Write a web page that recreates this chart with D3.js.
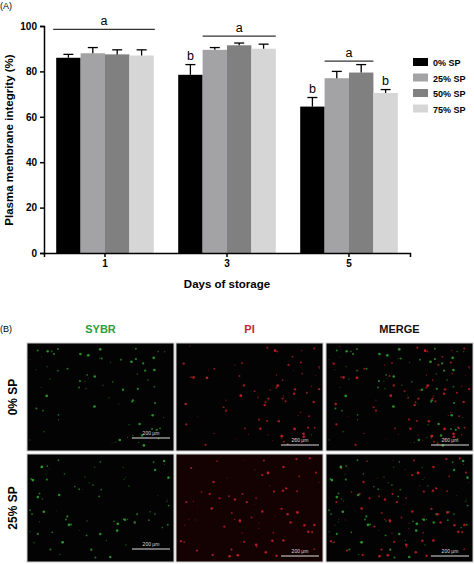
<!DOCTYPE html>
<html><head><meta charset="utf-8">
<script src="https://cdn.jsdelivr.net/npm/d3@7"></script>
<style>body{margin:0;background:#fff}text{font-family:Arial,"Liberation Sans",sans-serif}</style>
</head><body>
<svg id="c" width="474" height="564"></svg>
<script>
const days=["1","3","5"];
const series=["0% SP","25% SP","50% SP","75% SP"];
const colors=["#000000","#a3a3a5","#808080","#d6d6d6"];
const means=[[86,88,87.5,87],[78.5,89.5,91.5,90],[64.5,77,79.5,70.5]];
const errs=[[1.5,2.5,2,2.5],[4.5,1,1,2],[4,3,3.5,1.5]];
const yTicks=[0,20,40,60,80,100];
const sig=[{g:0,from:0,to:3,y:98.5,l:"a"},{g:1,from:1,to:3,y:95.5,l:"a"},{g:2,from:1,to:2,y:84.5,l:"a"}];
const letters=[{g:1,s:0,l:"b"},{g:2,s:0,l:"b"},{g:2,s:3,l:"b"}];

const svg=d3.select("#c");
const x0=d3.scaleBand().domain(days).range([44,410]).paddingInner(0.2).paddingOuter(0.1);
const x1=d3.scaleBand().domain(series).range([0,x0.bandwidth()]);
const y=d3.scaleLinear().domain([0,100]).range([253,26]);

svg.append("text").attr("x",0).attr("y",9).attr("font-size",9).text("(A)");
const g=svg.append("g");
days.forEach((d,i)=>{
  series.forEach((s,j)=>{
    const bx=x0(d)+x1(s), v=means[i][j], e=errs[i][j];
    g.append("rect").attr("x",bx).attr("y",y(v)).attr("width",x1.bandwidth()).attr("height",y(0)-y(v)).attr("fill",colors[j]);
    const cx=bx+x1.bandwidth()/2;
    g.append("line").attr("x1",cx).attr("x2",cx).attr("y1",y(v)).attr("y2",y(v+e)).attr("stroke","#000").attr("stroke-width",1.3);
    g.append("line").attr("x1",cx-5).attr("x2",cx+5).attr("y1",y(v+e)).attr("y2",y(v+e)).attr("stroke","#000").attr("stroke-width",1.3);
  });
});
sig.forEach(s=>{
  const d=days[s.g];
  const xa=x0(d)+x1(series[s.from]), xb=x0(d)+x1(series[s.to])+x1.bandwidth();
  const xs = s.g===0 ? [xa-3,xb+1] : [xa,xb];
  g.append("line").attr("x1",xs[0]).attr("x2",xs[1]).attr("y1",y(s.y)).attr("y2",y(s.y)).attr("stroke","#333").attr("stroke-width",1.2);
  g.append("text").attr("x",(xs[0]+xs[1])/2).attr("y",y(s.y)-4).attr("text-anchor","middle").attr("font-size",12.5).text(s.l);
});
letters.forEach(l=>{
  const i=l.g,j=l.s,d=days[i];
  const cx=x0(d)+x1(series[j])+x1.bandwidth()/2;
  g.append("text").attr("x",cx).attr("y",y(means[i][j]+errs[i][j])-5).attr("text-anchor","middle").attr("font-size",12.5).text(l.l);
});
const ya=svg.append("g").attr("transform","translate(44,0)").call(d3.axisLeft(y).tickValues(yTicks).tickSize(4));
const xa=svg.append("g").attr("transform","translate(0,253)").call(d3.axisBottom(x0).tickSize(4));
[ya,xa].forEach(a=>{a.selectAll("path,line").attr("stroke","#000").attr("stroke-width",1.5);a.selectAll("text").attr("font-size",10).attr("font-weight","bold").attr("fill","#000").attr("font-family","Arial");});
svg.append("text").attr("transform","translate(13,140) rotate(-90)").attr("text-anchor","middle").attr("font-size",11.5).attr("font-weight","bold").text("Plasma membrane integrity (%)");
svg.append("text").attr("x",227).attr("y",288).attr("text-anchor","middle").attr("font-size",11.5).attr("font-weight","bold").text("Days of storage");
series.forEach((s,j)=>{
  svg.append("rect").attr("x",413).attr("y",58+j*15.5).attr("width",15).attr("height",8).attr("fill",colors[j]);
  svg.append("text").attr("x",433).attr("y",66+j*15.5).attr("font-size",9).attr("font-weight","bold").text(s);
});

// Panel B
const cols=["SYBR","PI","MERGE"], colCol=["#2e9c3c","#c2272d","#111"];
const rows=["0% SP","25% SP"];
const colX=[27,176,326], colW=147, rowY=[343,454], rowH=108;
svg.append("text").attr("x",0).attr("y",332).attr("font-size",9).text("(B)");
cols.forEach((c,i)=>svg.append("text").attr("x",colX[i]+colW/2).attr("y",333).attr("text-anchor","middle").attr("font-size",11).attr("font-weight","bold").attr("fill",colCol[i]).text(c));
rows.forEach((r,k)=>svg.append("text").attr("transform",`translate(17,${rowY[k]+rowH/2}) rotate(-90)`).attr("text-anchor","middle").attr("font-size",12).attr("font-weight","bold").text(r));
let seed=7;const rnd=()=>{seed=(seed*16807)%2147483647;return seed/2147483647;};
rows.forEach((r,k)=>{
  const pts=[];for(let n=0;n<150;n++)pts.push([rnd(),rnd(),rnd()<0.5,rnd()]);
  cols.forEach((c,i)=>{
    const gx=svg.append("g");
    gx.append("rect").attr("x",colX[i]).attr("y",rowY[k]).attr("width",colW).attr("height",rowH).attr("fill",i===1&&k===1?"#140202":"#030303").attr("stroke","#ccc").attr("stroke-width",1);
    pts.forEach(p=>{
      const show = i===2 || (i===0 ? p[2] : !p[2]);
      if(!show) return;
      const col = p[2] ? "#2fa82f" : "#d0202a";
      gx.append("circle").attr("cx",colX[i]+3+p[0]*(colW-6)).attr("cy",rowY[k]+3+p[1]*(rowH-6)).attr("r",0.5+p[3]*0.9).attr("fill",col).attr("opacity",0.4+p[3]*0.5);
    });
    const sx=colX[i]+colW-42, sy=rowY[k]+(i===0?95:102);
    gx.append("line").attr("x1",sx).attr("x2",sx+38).attr("y1",sy).attr("y2",sy).attr("stroke","#ddd").attr("stroke-width",1.2);
    gx.append("text").attr("x",sx+19).attr("y",sy-3).attr("text-anchor","middle").attr("font-size",5).attr("fill","#ddd").text("200 μm");
  });
});
</script>
</body></html>
